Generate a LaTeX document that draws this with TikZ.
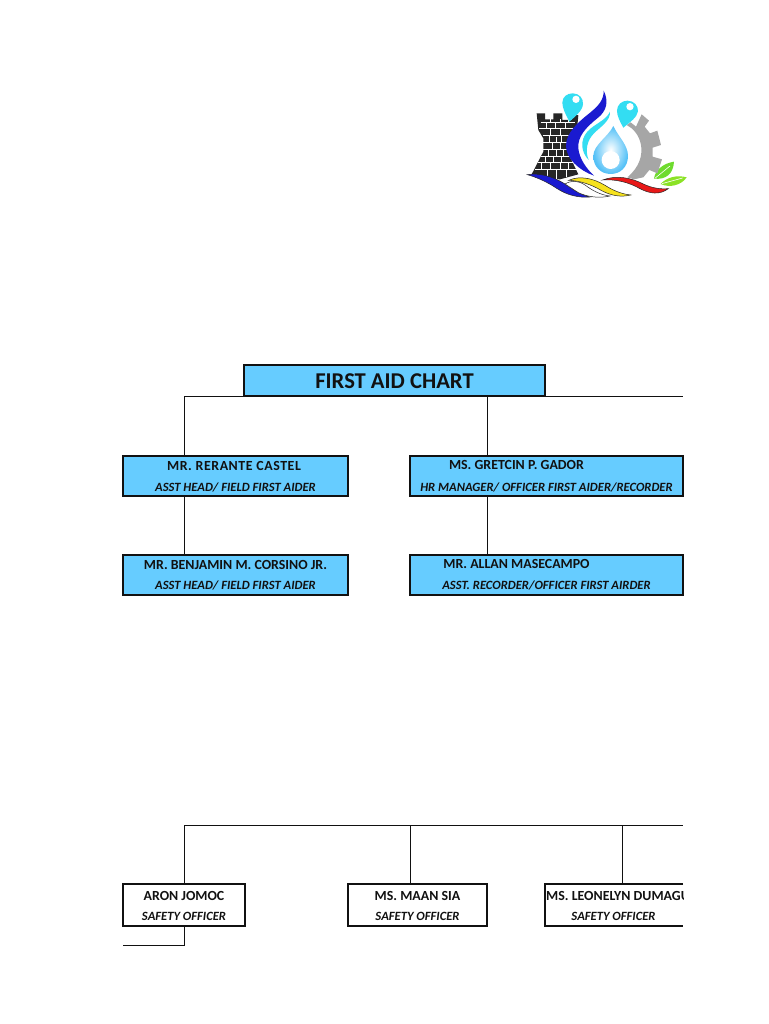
\documentclass[tikz,border=0pt]{standalone}
\usepackage{fontspec}
\setmainfont{Carlito}
\definecolor{boxblue}{HTML}{66CCFF}
\definecolor{ink}{HTML}{111111}
\definecolor{tower}{HTML}{262626}
\definecolor{royal}{HTML}{1A1AD0}
\definecolor{aqua}{HTML}{33DDF2}
\definecolor{gear}{HTML}{A6A6A6}
\definecolor{leaf}{HTML}{6EDB2E}
\definecolor{flagred}{HTML}{E81818}
\definecolor{flagyellow}{HTML}{F6E21E}
\tikzset{
  x=1pt,y=-1pt,
  orgbox/.style={draw=ink,line width=1.8pt,fill=boxblue,inner sep=0pt,outer sep=0pt},
  plainbox/.style={draw=ink,line width=1.8pt,fill=white,inner sep=0pt,outer sep=0pt},
  openbox/.style={fill=white,inner sep=0pt,outer sep=0pt},
  link/.style={draw=ink,line width=0.9pt},
  nametext/.style={inner sep=0pt,font=\bfseries\fontsize{13.9}{16}\selectfont,text=ink},
  widename/.style={inner sep=0pt,font=\bfseries\fontsize{13.9}{16}\selectfont\addfontfeatures{LetterSpace=4},text=ink},
  roletext/.style={inner sep=0pt,font=\bfseries\itshape\fontsize{12.6}{15}\selectfont,text=ink},
  titletext/.style={inner sep=0pt,font=\bfseries\fontsize{22.6}{25}\selectfont,text=ink},
  ribbonline/.style={draw=tower,line width=0.5pt},
}
\begin{document}
\begin{tikzpicture}
\useasboundingbox (0,0) rectangle (768,1024);
\fill[white] (0,0) rectangle (768,1024);

% connectors first, boxes drawn on top
\coordinate (ttl) at (184,396.5);
\coordinate (ttr) at (683,396.5);
\coordinate (tmid) at (487.5,396.5);
\coordinate (r1top) at (184,456);
\coordinate (r1bot) at (184,496);
\coordinate (r2top) at (184,555);
\coordinate (g1top) at (487.5,456);
\coordinate (g1bot) at (487.5,496);
\coordinate (g2top) at (487.5,555);
\coordinate (bl) at (184,825);
\coordinate (br) at (683,825);
\coordinate (bm) at (410,825);
\coordinate (bn) at (622.5,825);
\coordinate (atop) at (184,884);
\coordinate (mtop) at (410,884);
\coordinate (ltop) at (622.5,884);
\coordinate (abot) at (184,926);
\coordinate (ael) at (184,945.5);
\coordinate (aer) at (123,945.5);

\draw[link] (r1top) -- (ttl) -- (ttr);
\draw[link] (tmid) -- (g1top);
\draw[link] (r1bot) -- (r2top);
\draw[link] (g1bot) -- (g2top);
\draw[link] (atop) -- (bl) -- (br);
\draw[link] (bm) -- (mtop);
\draw[link] (bn) -- (ltop);
\draw[link] (abot) -- (ael) -- (aer);

% top boxes
\node[orgbox,minimum width=301pt,minimum height=31pt,anchor=north west] (title) at (244,365) {};
\node[titletext] (titlelabel) at (394.5,381) {FIRST AID CHART};

\node[orgbox,minimum width=225pt,minimum height=40pt,anchor=north west] (castel) at (123,456) {};
\node[widename] (castelname) at (234,466) {MR. RERANTE CASTEL};
\node[roletext] (castelrole) at (235.5,487.5) {ASST HEAD/ FIELD FIRST AIDER};

\node[orgbox,minimum width=225pt,minimum height=40pt,anchor=north west] (corsino) at (123,555) {};
\node[nametext] (corsinoname) at (235.5,564.5) {MR. BENJAMIN M. CORSINO JR.};
\node[roletext] (corsinorole) at (235.5,585.5) {ASST HEAD/ FIELD FIRST AIDER};

\node[orgbox,minimum width=273pt,minimum height=40pt,anchor=north west] (gador) at (410,456) {};
\node[nametext] (gadorname) at (516.5,465) {MS. GRETCIN P. GADOR};
\node[roletext] (gadorrole) at (546.5,487.5) {HR MANAGER/ OFFICER FIRST AIDER/RECORDER};

\node[orgbox,minimum width=273pt,minimum height=40pt,anchor=north west] (allan) at (410,555) {};
\node[nametext] (allanname) at (516.5,563.5) {MR. ALLAN MASECAMPO};
\node[roletext] (allanrole) at (546.5,585.5) {ASST. RECORDER/OFFICER FIRST AIRDER};

% bottom boxes
\node[plainbox,minimum width=122pt,minimum height=42pt,anchor=north west] (aron) at (123,884) {};
\node[nametext] (aronname) at (184,895.5) {ARON JOMOC};
\node[roletext] (aronrole) at (184,916.5) {SAFETY OFFICER};

\node[plainbox,minimum width=139pt,minimum height=42pt,anchor=north west] (maan) at (348,884) {};
\node[nametext] (maanname) at (417.5,895.5) {MS. MAAN SIA};
\node[roletext] (maanrole) at (417.5,916.5) {SAFETY OFFICER};

\node[openbox,minimum width=138pt,minimum height=42pt,anchor=north west] (leon) at (545,884) {};
\draw[draw=ink,line width=1.8pt] (leon.north east) -- (leon.north west) -- (leon.south west) -- (leon.south east);
\begin{scope}
  \clip (540,884) rectangle (683,926);
  \node[nametext,anchor=west] (leonname) at (546,895.5) {MS. LEONELYN DUMAGUING};
\end{scope}
\node[roletext] (leonrole) at (613.5,916.5) {SAFETY OFFICER};

% logo: coordinates in 3x zoom pixels
\begin{scope}[shift={(510,80)},x=0.3333pt,y=-0.3333pt]
  % leaves
  \fill[leaf] (432,296) .. controls (436,268) and (462,250) .. (492,245) .. controls (490,280) and (470,300) .. (432,296) -- cycle;
  \fill[leaf!80!yellow] (452,312) .. controls (470,292) and (500,284) .. (530,292) .. controls (515,315) and (480,325) .. (452,312) -- cycle;
  \draw[white,line width=0.6pt] (436,294) -- (480,258) (456,311) -- (518,294);
  % gear
  \fill[gear] (395,103) -- (417,122) -- (404,140) -- (420,160) -- (442,152) -- (453,195) -- (428,203) -- (428,230) -- (456,238) -- (442,280) -- (418,270) -- (400,292) -- (372,298) -- (352,292)
     .. controls (388,262) and (400,225) .. (392,190) .. controls (386,165) and (370,145) .. (350,135) -- (362,127) -- (378,140) -- cycle;
  % tower
  \fill[tower] (80,100) -- (105,100) -- (105,118) -- (130,118) -- (130,100) -- (157,100) -- (157,120) -- (185,120) -- (187,103) -- (205,106) -- (200,160) -- (175,165) -- (170,210) -- (205,283) -- (150,298) -- (120,296) -- (65,283) -- (100,215) -- (100,175) -- (85,150) -- cycle;
  \draw[white,line width=0.7pt]
    (92,128) -- (196,128) (88,145) -- (190,145) (100,165) -- (175,165) (100,188) -- (172,188) (100,208) -- (172,208) (92,228) -- (185,228) (85,248) -- (195,248) (75,268) -- (205,268)
    (120,118) -- (120,128) (150,118) -- (150,128) (175,118) -- (175,128) (108,128) -- (108,145) (135,128) -- (135,145) (165,128) -- (165,145) (120,145) -- (120,165) (150,145) -- (150,165)
    (118,165) -- (118,188) (140,172) -- (140,188) (155,165) -- (155,188) (128,188) -- (128,208) (150,188) -- (150,208) (115,208) -- (115,228) (140,208) -- (140,228) (160,208) -- (160,228)
    (105,228) -- (105,248) (130,228) -- (130,248) (155,228) -- (155,248) (95,248) -- (95,268) (122,248) -- (122,268) (150,248) -- (150,268) (175,248) -- (175,268) (112,268) -- (112,292) (140,268) -- (140,296) (168,268) -- (168,292);
  % map pins
  \fill[aqua] (178,125) .. controls (168,105) and (157,85) .. (157,68) .. controls (157,50) and (172,40) .. (188,40) .. controls (208,40) and (220,55) .. (219,72) .. controls (218,92) and (195,110) .. (178,125) -- cycle;
  \fill[white] (198,58) circle[radius=11];
  \fill[aqua] (340,143) .. controls (330,125) and (321,108) .. (321,92) .. controls (321,74) and (336,62) .. (352,62) .. controls (372,62) and (385,77) .. (384,94) .. controls (382,112) and (358,128) .. (340,143) -- cycle;
  \fill[white] (360,80) circle[radius=11];
  % royal-blue flame
  \fill[royal] (281,32) .. controls (296,62) and (292,92) .. (262,115) .. controls (228,142) and (202,170) .. (205,205) .. controls (208,235) and (228,265) .. (252,287)
     .. controls (208,272) and (168,235) .. (168,198) .. controls (168,160) and (200,130) .. (238,100) .. controls (262,80) and (282,62) .. (281,32) -- cycle;
  % cyan inner flame
  \fill[aqua] (300,95) .. controls (302,122) and (272,140) .. (252,160) .. controls (232,180) and (224,210) .. (236,240) .. controls (212,215) and (210,180) .. (232,155) .. controls (252,132) and (288,122) .. (300,95) -- cycle;
  % water drop
  \shade[inner color=white,outer color=aqua!80!blue!80] (310,138) .. controls (325,170) and (354,195) .. (354,228) .. controls (354,262) and (330,282) .. (302,282) .. controls (272,282) and (250,260) .. (250,228) .. controls (250,195) and (295,170) .. (310,138) -- cycle;
  \fill[white] (302,240) circle[radius=27];
  % ribbons: band with dark outline
  \filldraw[ribbonline,fill=royal] (52,284) .. controls (90,278) and (130,290) .. (165,312) .. controls (190,330) and (215,345) .. (240,351) .. controls (205,354) and (170,345) .. (140,325) .. controls (110,305) and (80,292) .. (52,284) -- cycle;
  \filldraw[ribbonline,fill=white] (165,312) .. controls (185,300) and (205,302) .. (225,315) .. controls (245,330) and (270,345) .. (300,348) .. controls (270,355) and (235,352) .. (205,338) -- cycle;
  \filldraw[ribbonline,fill=flagyellow] (176,301) .. controls (210,286) and (250,295) .. (285,316) .. controls (310,332) and (335,342) .. (362,345) .. controls (335,352) and (305,348) .. (275,332) .. controls (245,314) and (210,302) .. (176,301) -- cycle;
  \filldraw[ribbonline,fill=flagred] (278,300) .. controls (320,284) and (365,294) .. (400,312) .. controls (425,324) and (450,328) .. (475,326) .. controls (450,345) and (420,342) .. (390,326) .. controls (355,306) and (315,297) .. (278,300) -- cycle;
\end{scope}
\end{tikzpicture}
\end{document}
